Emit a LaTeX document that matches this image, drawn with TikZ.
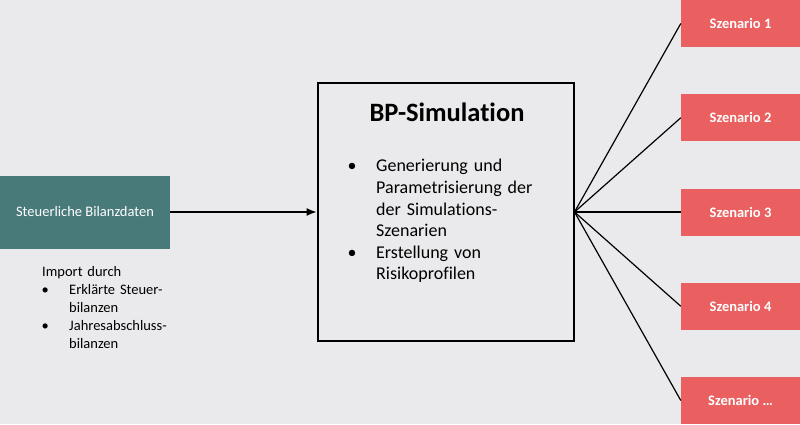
\documentclass[tikz,border=0pt]{standalone}
\usepackage{fontspec}
\setmainfont{Carlito}[RawFeature=-liga]
\usepackage{xcolor}
\usepackage{enumitem}
\usepackage{tikz}
\usetikzlibrary{arrows.meta,positioning}
\definecolor{bggray}{RGB}{234,234,236}
\definecolor{datateal}{RGB}{72,122,121}
\definecolor{szenred}{RGB}{234,96,96}
\setlist[itemize]{label={\makebox[0pt]{\textbullet}},labelwidth=0pt,labelsep=24pt,
                  itemsep=0pt,topsep=0pt,parsep=0pt,partopsep=0pt}

\begin{document}
\begin{tikzpicture}[x=1pt,y=1pt,
  databox/.style={rectangle,fill=datateal,text=white,minimum width=170pt,minimum height=73pt,
                  inner sep=0pt,font=\fontsize{14.5}{17}\selectfont},
  simbox/.style={rectangle,draw=black,line width=2pt,minimum width=256pt,minimum height=257pt,inner sep=0pt},
  szenbox/.style={rectangle,fill=szenred,text=white,minimum width=119pt,minimum height=47pt,
                  inner sep=0pt,font=\fontsize{14.5}{17}\selectfont\bfseries},
  fan/.style={line width=1.2pt,black},
  arr/.style={-{Latex[length=10pt,width=8pt]},line width=1.2pt}
]
% background and page size
\fill[bggray] (0,0) rectangle (800,424);
\useasboundingbox (0,0) rectangle (800,424);

%--- input data ---
\node[databox] (daten) at (85,212) {Steuerliche Bilanzdaten};
\node[anchor=north west,inner sep=0pt,text width=150pt,
      font=\fontsize{14.5}{18}\selectfont] (import) at (42,158)
  {\raggedright Import durch
   \begin{itemize}[leftmargin=27pt]
   \item Erkl\"arte Steuer-\newline bilanzen
   \item Jahresabschluss-\newline bilanzen
   \end{itemize}};

%--- simulation ---
\node[simbox] (bp) at (445.5,212) {};
\node[font=\fontsize{26.5}{31}\selectfont\bfseries] (bptitle) at (447,312) {BP-Simulation};
\node[anchor=north west,inner sep=0pt,text width=200pt,
      font=\fontsize{18}{21.6}\selectfont] (bplist) at (352,274)
  {\raggedright
   \begin{itemize}[leftmargin=24pt]
   \item Generierung und\newline Parametrisierung der\newline der Simulations-\newline Szenarien
   \item Erstellung von\newline Risikoprofilen
   \end{itemize}};

\draw[arr] (daten.east) -- (bp.west);

%--- scenarios ---
\foreach \i/\lab in {1/1,2/2,3/3,4/4,5/\dots}{
  \node[szenbox] (sz\i) at (740.5,{400.5-94.25*(\i-1)}) {Szenario \lab};
  \draw[fan] (bp.east) -- (sz\i.west);
}
\end{tikzpicture}
\end{document}
